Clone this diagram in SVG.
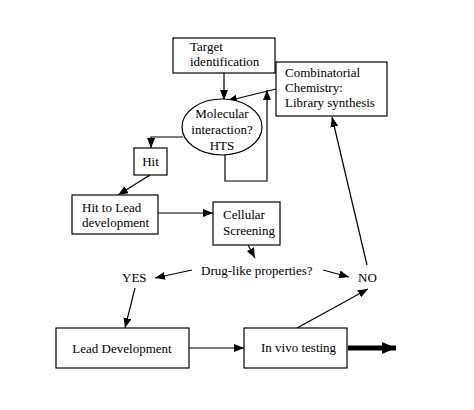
<svg xmlns="http://www.w3.org/2000/svg" width="474" height="410" viewBox="0 0 474 410">
<defs>
<marker id="ah" markerWidth="10" markerHeight="8" refX="10" refY="4" orient="auto" markerUnits="userSpaceOnUse">
<path d="M0,0 L10,4 L0,8 Z" fill="#000"/>
</marker>
<marker id="big" markerWidth="14" markerHeight="12" refX="14" refY="6" orient="auto" markerUnits="userSpaceOnUse">
<path d="M0,0 L14,6 L0,12 Z" fill="#000"/>
</marker>
<style>
.box{fill:#fff;stroke:#000;stroke-width:1.2}
.t{font-family:"Liberation Serif","Times New Roman",serif;font-size:13px;fill:#000}
.c{stroke:#000;stroke-width:1.2;fill:none}
</style>
</defs>
<rect width="474" height="410" fill="#fff"/>
<g id="connectors">
<line class="c" x1="224" y1="73" x2="224" y2="100" marker-end="url(#ah)"/>
<line class="c" x1="276" y1="89" x2="227" y2="101" marker-end="url(#ah)"/>
<path class="c" d="M225,155 V181 H267 V90" marker-end="url(#ah)"/>
<path class="c" d="M183,137 H151 V148" marker-end="url(#ah)"/>
<line class="c" x1="150" y1="175" x2="118" y2="195" marker-end="url(#ah)"/>
<line class="c" x1="158" y1="213" x2="213" y2="213" marker-end="url(#ah)"/>
<line class="c" x1="248" y1="245" x2="255" y2="258" marker-end="url(#ah)"/>
<line class="c" x1="192" y1="270" x2="155" y2="278" marker-end="url(#ah)"/>
<line class="c" x1="135" y1="288" x2="125" y2="328" marker-end="url(#ah)"/>
<line class="c" x1="323" y1="270" x2="349" y2="277" marker-end="url(#ah)"/>
<line class="c" x1="297" y1="328" x2="368" y2="289" marker-end="url(#ah)"/>
<line class="c" x1="367" y1="265" x2="332" y2="117" marker-end="url(#ah)"/>
<line class="c" x1="189" y1="348" x2="244" y2="348" marker-end="url(#ah)"/>
<line x1="348" y1="348" x2="396" y2="348" stroke="#000" stroke-width="5" marker-end="url(#big)"/>
</g>
<g id="target">
<rect class="box" x="173" y="38" width="102" height="35"/>
<text class="t" x="190" y="51">Target</text>
<text class="t" x="190" y="66">identification</text>
</g>
<g id="combinatorial">
<rect class="box" x="276" y="62" width="111" height="54"/>
<text class="t" x="285" y="77">Combinatorial</text>
<text class="t" x="285" y="92">Chemistry:</text>
<text class="t" x="285" y="107">Library synthesis</text>
</g>
<g id="molecular">
<ellipse class="box" cx="222" cy="127" rx="40" ry="28"/>
<text class="t" x="222" y="118" text-anchor="middle">Molecular</text>
<text class="t" x="222" y="134" text-anchor="middle">interaction?</text>
<text class="t" x="222" y="150" text-anchor="middle">HTS</text>
</g>
<g id="hit">
<rect class="box" x="134" y="148" width="33" height="27"/>
<text class="t" x="150.5" y="166" text-anchor="middle">Hit</text>
</g>
<g id="hit-to-lead">
<rect class="box" x="72" y="195" width="86" height="39"/>
<text class="t" x="82" y="212">Hit to Lead</text>
<text class="t" x="82" y="227">development</text>
</g>
<g id="cellular">
<rect class="box" x="213" y="202" width="67" height="43"/>
<text class="t" x="223" y="219">Cellular</text>
<text class="t" x="223" y="235">Screening</text>
</g>
<g id="druglike">
<text class="t" x="201" y="275">Drug-like properties?</text>
</g>
<g id="yes">
<text class="t" x="122" y="282">YES</text>
</g>
<g id="no">
<text class="t" x="358" y="282">NO</text>
</g>
<g id="lead-development">
<rect class="box" x="56" y="328" width="133" height="40"/>
<text class="t" x="122" y="353" text-anchor="middle">Lead Development</text>
</g>
<g id="in-vivo">
<rect class="box" x="244" y="328" width="103" height="40"/>
<text class="t" x="261" y="352">In vivo testing</text>
</g>
</svg>
